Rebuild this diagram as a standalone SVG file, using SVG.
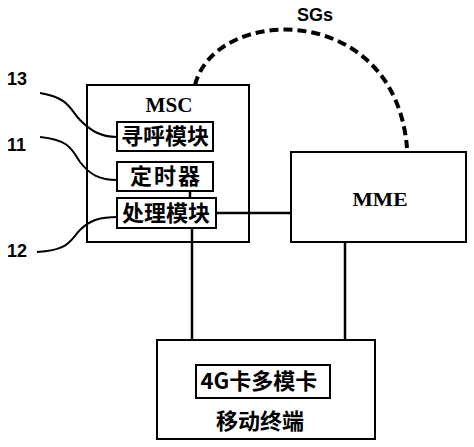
<svg xmlns="http://www.w3.org/2000/svg" width="474" height="447" viewBox="0 0 474 447">
<style>
.box{fill:#fff;stroke:#000;stroke-width:2}
.ln{fill:none;stroke:#000;stroke-width:2.5}
.dash{fill:none;stroke:#000;stroke-width:4;stroke-dasharray:9,5}
.cv{fill:none;stroke:#000;stroke-width:2}
.cn{font-family:"Noto Sans CJK SC","Liberation Sans",sans-serif;font-weight:bold;font-size:22px;text-anchor:middle;fill:#000}
.en{font-family:"Liberation Serif",serif;font-weight:bold;text-anchor:middle;fill:#000}
.num{font-family:"Liberation Sans",sans-serif;font-weight:bold;font-size:18px;fill:#000}
</style>
<rect width="474" height="447" fill="#fff"/>
<g id="msc">
<rect class="box" x="87" y="85" width="162" height="157"/>
<text class="en" x="169" y="112" font-size="20" textLength="47" lengthAdjust="spacingAndGlyphs">MSC</text>
</g>
<g id="connectors">
<path class="dash" d="M195,85 C215,5 395,0 407,148"/>
<line class="ln" x1="190" y1="191" x2="190" y2="198"/>
<line class="ln" x1="216" y1="213" x2="291" y2="213"/>
<line class="ln" x1="192" y1="228" x2="192" y2="340"/>
<line class="ln" x1="345" y1="242" x2="345" y2="340"/>
<path class="cv" d="M40,93 C70,98 70,110 80,120 C90,130 100,137 117,137"/>
<path class="cv" d="M40,137 C70,140 72,150 80,162 C90,175 100,180 117,180"/>
<path class="cv" d="M37,252 C70,250 70,240 80,230 C90,220 100,217 118,217"/>
<text class="num" x="315" y="21" text-anchor="middle" font-size="17">SGs</text>
</g>
<g id="paging">
<rect class="box" x="117" y="122" width="96" height="29"/>
<text class="cn" x="165" y="144">寻呼模块</text>
</g>
<g id="timer">
<rect class="box" x="117" y="162" width="96" height="29"/>
<text class="cn" x="166" y="184" letter-spacing="2">定时器</text>
</g>
<g id="proc">
<rect class="box" x="117" y="198" width="99" height="30"/>
<text class="cn" x="166" y="221">处理模块</text>
</g>
<g id="mme">
<rect class="box" x="291" y="152" width="175" height="90"/>
<text class="en" x="380" y="206" font-size="18" textLength="55" lengthAdjust="spacingAndGlyphs">MME</text>
</g>
<g id="terminal">
<rect class="box" x="157" y="340" width="218" height="99"/>
<text class="cn" x="260" y="429" font-size="21">移动终端</text>
</g>
<g id="card">
<rect class="box" x="196" y="365" width="134" height="33"/>
<text class="cn" x="259" y="389" font-size="20">4G卡多模卡</text>
</g>
<g id="labels">
<text class="num" x="7" y="85">13</text>
<text class="num" x="7" y="151">11</text>
<text class="num" x="7" y="257">12</text>
</g>
</svg>
